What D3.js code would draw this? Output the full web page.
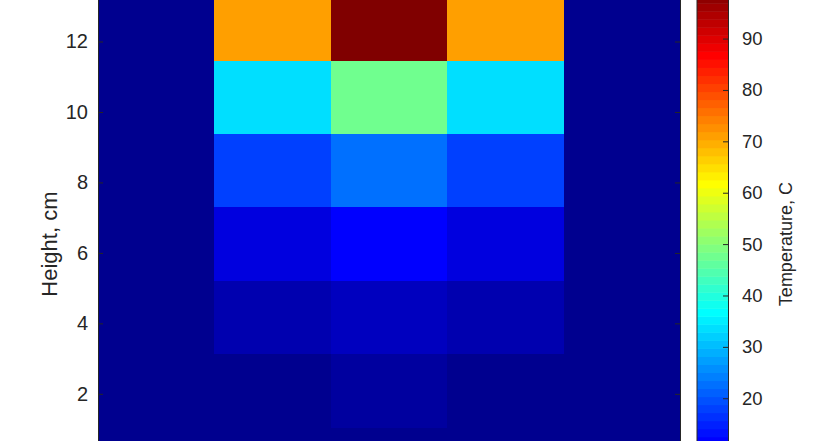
<!DOCTYPE html>
<html>
<head>
<meta charset="utf-8">
<script src="https://cdn.jsdelivr.net/npm/d3@7"></script>
<style>
  html, body { margin: 0; padding: 0; background: #fff; overflow: hidden; }
  svg { display: block; }
  text { font-family: "Liberation Sans", Arial, sans-serif; fill: #262626; }
</style>
</head>
<body>
<svg id="chart" width="840" height="441"></svg>
<script>
// ---- data ----
const columns = [1, 2, 3, 4, 5];
const heights = [0, 2.0833, 4.1667, 6.25, 8.3333, 10.4167, 12.5];
// temperature per height row (bottom to top), one value per column
const row0 = [0.5, 0.5, 1.0, 0.5, 0.5];
const row1 = [0.5, 0.8, 2.3, 0.8, 0.5];
const row2 = [0.5, 3.9, 5.5, 3.9, 0.5];
const row3 = [0.5, 8.6, 11.7, 8.6, 0.5];
const row4 = [0.5, 18.0, 22.7, 18.0, 0.5];
const row5 = [0.5, 33.6, 47.7, 33.6, 0.5];
const row6 = [0.5, 71.1, 99.2, 71.1, 0.5];
const temps = [row0, row1, row2, row3, row4, row5, row6];
const yTicks = [2, 4, 6, 8, 10, 12];
const cTicks = [20, 30, 40, 50, 60, 70, 80, 90];
const cLimits = [0, 100];
const yLabel = "Height, cm";
const cLabel = "Temperature, C";

// ---- jet(64) colormap (MATLAB definition) ----
function jet(m) {
  const n = Math.ceil(m / 4);
  const u = [];
  for (let i = 1; i <= n; i++) u.push(i / n);
  for (let i = 1; i <= n - 1; i++) u.push(1);
  for (let i = n; i >= 1; i--) u.push(i / n);
  const base = Math.ceil(n / 2) - (m % 4 === 1 ? 1 : 0);
  const R = new Array(m).fill(0), G = new Array(m).fill(0), B = new Array(m).fill(0);
  u.forEach((val, k) => {
    const g = base + k + 1, r = g + n, b = g - n;
    if (g >= 1 && g <= m) G[g - 1] = val;
    if (r >= 1 && r <= m) R[r - 1] = val;
    if (b >= 1 && b <= m) B[b - 1] = val;
  });
  return d3.range(m).map(i => d3.rgb(R[i] * 255, G[i] * 255, B[i] * 255).toString());
}
const cmap = jet(64);
function colorOf(v) {
  let idx = Math.floor((v - cLimits[0]) / (cLimits[1] - cLimits[0]) * cmap.length);
  idx = Math.max(0, Math.min(cmap.length - 1, idx));
  return cmap[idx];
}

// ---- layout ----
const svg = d3.select("#chart");
const half = (heights[1] - heights[0]) / 2;
const plot = { left: 98, right: 680, top: -12.8, bottom: 501 };
const x = d3.scaleLinear().domain([columns[0] - 0.5, columns[columns.length - 1] + 0.5]).range([plot.left, plot.right]);
const y = d3.scaleLinear().domain([heights[0] - half, heights[heights.length - 1] + half]).range([plot.bottom, plot.top]);

// cells
const cells = [];
temps.forEach((row, r) => row.forEach((v, c) => cells.push({ h: heights[r], c: columns[c], v })));
svg.append("g").selectAll("rect").data(cells).join("rect")
  .attr("x", d => x(d.c - 0.5))
  .attr("y", d => y(d.h + half))
  .attr("width", d => x(d.c + 0.5) - x(d.c - 0.5))
  .attr("height", d => y(d.h - half) - y(d.h + half))
  .attr("fill", d => colorOf(d.v))
  .attr("shape-rendering", "crispEdges");

// axes (box with inward ticks)
const axisColor = "#262626";
const yAxisL = d3.axisLeft(y).tickValues(yTicks).tickSize(-5).tickPadding(10).tickFormat(d3.format("d"));
const gL = svg.append("g").attr("transform", `translate(${plot.left},0)`).call(yAxisL);
gL.select(".domain").attr("stroke", axisColor).attr("stroke-width", 1);
gL.selectAll(".tick line").attr("stroke", axisColor);
gL.selectAll(".tick text").attr("font-size", 20).attr("fill", axisColor)
  .attr("font-family", "Liberation Sans, Arial, sans-serif");

const yAxisR = d3.axisRight(y).tickValues(yTicks).tickSize(-5).tickFormat("");
const gR = svg.append("g").attr("transform", `translate(${plot.right},0)`).call(yAxisR);
gR.select(".domain").attr("stroke", axisColor);
gR.selectAll(".tick line").attr("stroke", axisColor);

svg.append("text")
  .attr("transform", `translate(49,${(plot.top + plot.bottom) / 2}) rotate(-90)`)
  .attr("text-anchor", "middle").attr("dominant-baseline", "central")
  .attr("font-size", 22).text(yLabel);

// colorbar
const cb = { left: 697, right: 728 };
const cy = d3.scaleLinear().domain(cLimits).range([plot.bottom, plot.top]);
const step = (cLimits[1] - cLimits[0]) / cmap.length;
svg.append("g").selectAll("rect").data(cmap).join("rect")
  .attr("x", cb.left)
  .attr("width", cb.right - cb.left)
  .attr("y", (d, i) => cy(cLimits[0] + (i + 1) * step))
  .attr("height", (d, i) => cy(cLimits[0] + i * step) - cy(cLimits[0] + (i + 1) * step) + 0.5)
  .attr("fill", d => d);
const cAxis = d3.axisRight(cy).tickValues(cTicks).tickSize(-5).tickPadding(14).tickFormat(d3.format("d"));
const gC = svg.append("g").attr("transform", `translate(${cb.right},0)`).call(cAxis);
gC.select(".domain").attr("stroke", axisColor);
gC.selectAll(".tick line").attr("stroke", axisColor);
gC.selectAll(".tick text").attr("font-size", 18.5).attr("fill", axisColor)
  .attr("font-family", "Liberation Sans, Arial, sans-serif");
svg.append("line").attr("x1", cb.left).attr("x2", cb.left)
  .attr("y1", plot.top).attr("y2", plot.bottom).attr("stroke", axisColor);

svg.append("text")
  .attr("transform", `translate(786,${(plot.top + plot.bottom) / 2}) rotate(-90)`)
  .attr("text-anchor", "middle").attr("dominant-baseline", "central")
  .attr("font-size", 18).text(cLabel);
</script>
</body>
</html>
